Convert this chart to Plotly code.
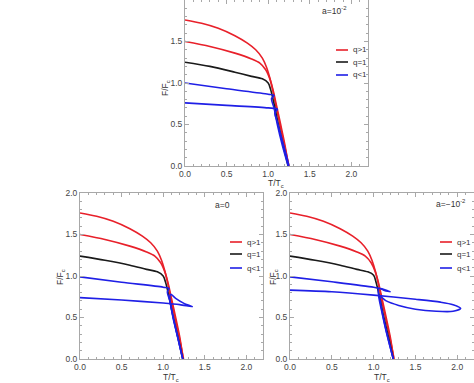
import plotly.graph_objects as go

# ---------------- data ----------------
# panel a = 10^-2 (top)
T_top_red1 = [0, 0.2, 0.4, 0.6, 0.75, 0.85, 0.93, 0.98, 1.02, 1.06, 1.10, 1.15, 1.20, 1.25]
F_top_red1 = [1.76, 1.72, 1.66, 1.57, 1.48, 1.40, 1.30, 1.19, 1.06, 0.89, 0.69, 0.46, 0.23, 0.0]
T_top_red2 = [0, 0.3, 0.6, 0.8, 0.9, 0.97, 1.02, 1.06, 1.10, 1.15, 1.20, 1.245]
F_top_red2 = [1.50, 1.44, 1.36, 1.29, 1.24, 1.16, 1.05, 0.91, 0.73, 0.50, 0.26, 0.0]
T_top_blk = [0, 0.3, 0.6, 0.8, 0.93, 1.0, 1.03, 1.07, 1.12, 1.18, 1.24]
F_top_blk = [1.25, 1.20, 1.13, 1.08, 1.05, 1.00, 0.92, 0.75, 0.51, 0.25, 0.0]
T_top_blu1 = [0, 0.5, 1.0, 1.07, 1.04, 1.07, 1.11, 1.17, 1.24]
F_top_blu1 = [1.0, 0.93, 0.865, 0.85, 0.81, 0.70, 0.50, 0.25, 0.0]
T_top_blu2 = [0, 0.5, 1.0, 1.11, 1.08, 1.11, 1.16, 1.21, 1.25]
F_top_blu2 = [0.76, 0.73, 0.70, 0.685, 0.64, 0.53, 0.34, 0.16, 0.0]

# panel a = 0 (bottom left)
T_a0_red1 = [0, 0.2, 0.4, 0.6, 0.75, 0.85, 0.93, 0.98, 1.02, 1.06, 1.10, 1.15, 1.20, 1.245]
F_a0_red1 = [1.76, 1.72, 1.66, 1.57, 1.48, 1.40, 1.30, 1.19, 1.06, 0.89, 0.69, 0.46, 0.23, 0.0]
T_a0_red2 = [0, 0.3, 0.6, 0.8, 0.9, 0.97, 1.02, 1.06, 1.10, 1.15, 1.20, 1.24]
F_a0_red2 = [1.50, 1.44, 1.36, 1.29, 1.24, 1.16, 1.05, 0.91, 0.73, 0.50, 0.26, 0.0]
T_a0_blk = [0, 0.3, 0.6, 0.8, 0.93, 1.0, 1.03, 1.07, 1.12, 1.18, 1.235]
F_a0_blk = [1.24, 1.19, 1.13, 1.08, 1.05, 1.00, 0.92, 0.75, 0.51, 0.25, 0.0]
T_a0_blu1 = [0, 0.5, 1.0, 1.07, 1.05, 1.08, 1.12, 1.18, 1.235]
F_a0_blu1 = [0.99, 0.925, 0.865, 0.85, 0.81, 0.70, 0.49, 0.24, 0.0]
T_a0_blu2 = [0, 0.5, 1.0, 1.2, 1.35, 1.25, 1.15, 1.09, 1.08, 1.11, 1.17, 1.235]
F_a0_blu2 = [0.74, 0.71, 0.675, 0.655, 0.63, 0.67, 0.73, 0.78, 0.72, 0.55, 0.28, 0.0]

# panel a = -10^-2 (bottom right)
T_am_red1 = [0, 0.2, 0.4, 0.6, 0.75, 0.85, 0.93, 0.98, 1.02, 1.06, 1.10, 1.15, 1.20, 1.245]
F_am_red1 = [1.76, 1.72, 1.66, 1.57, 1.48, 1.40, 1.30, 1.19, 1.06, 0.89, 0.69, 0.46, 0.23, 0.0]
T_am_red2 = [0, 0.3, 0.6, 0.8, 0.9, 0.97, 1.02, 1.06, 1.10, 1.15, 1.20, 1.24]
F_am_red2 = [1.50, 1.44, 1.36, 1.29, 1.24, 1.16, 1.05, 0.91, 0.73, 0.50, 0.26, 0.0]
T_am_blk = [0, 0.3, 0.6, 0.8, 0.93, 1.0, 1.03, 1.07, 1.12, 1.18, 1.235]
F_am_blk = [1.24, 1.19, 1.13, 1.08, 1.05, 1.01, 0.92, 0.75, 0.51, 0.25, 0.0]
T_am_blu1 = [0, 0.5, 1.0, 1.1, 1.2, 1.12, 1.06, 1.06, 1.10, 1.16, 1.235]
F_am_blu1 = [0.99, 0.93, 0.865, 0.845, 0.81, 0.83, 0.85, 0.76, 0.56, 0.29, 0.0]
T_am_blu2 = [0, 0.5, 1.0, 1.5, 1.8, 1.95, 2.04, 1.95, 1.75, 1.5, 1.3, 1.15, 1.08, 1.10, 1.16, 1.235]
F_am_blu2 = [0.83, 0.81, 0.77, 0.72, 0.685, 0.655, 0.61, 0.575, 0.575, 0.60, 0.645, 0.70, 0.75, 0.58, 0.30, 0.0]

legend_labels = ["q&gt;1", "q=1", "q&lt;1"]
panel_labels = ["a=10<sup>-2</sup>", "a=0", "a=\u221210<sup>-2</sup>"]

RED = "#e8202a"
BLACK = "#1a1a1a"
BLUE = "#1f1fe6"

panels = [
    ("x", "y", [(T_top_red1, F_top_red1, RED), (T_top_red2, F_top_red2, RED),
                (T_top_blk, F_top_blk, BLACK), (T_top_blu1, F_top_blu1, BLUE),
                (T_top_blu2, F_top_blu2, BLUE)]),
    ("x2", "y2", [(T_a0_red1, F_a0_red1, RED), (T_a0_red2, F_a0_red2, RED),
                  (T_a0_blk, F_a0_blk, BLACK), (T_a0_blu1, F_a0_blu1, BLUE),
                  (T_a0_blu2, F_a0_blu2, BLUE)]),
    ("x3", "y3", [(T_am_red1, F_am_red1, RED), (T_am_red2, F_am_red2, RED),
                  (T_am_blk, F_am_blk, BLACK), (T_am_blu1, F_am_blu1, BLUE),
                  (T_am_blu2, F_am_blu2, BLUE)]),
]

W, H = 474, 383
# domains in paper coords
domains = [
    ([185 / W, 368 / W], [1 - 166 / H, 1.0]),
    ([80 / W, 263 / W], [1 - 359 / H, 1 - 193 / H]),
    ([290 / W, 474 / W], [1 - 359 / H, 1 - 193 / H]),
]

fig = go.Figure()
for xa, ya, curves in panels:
    for T, F, c in curves:
        fig.add_trace(go.Scatter(x=T, y=F, xaxis=xa, yaxis=ya, mode="lines",
                                 line=dict(color=c, width=1.6, shape="spline", smoothing=0.8),
                                 showlegend=False, hoverinfo="skip"))

FRAME = "#a8a8a8"
TICKFONT = dict(family="Liberation Sans, Arial, sans-serif", size=8.5, color="#444")
layout = dict(width=W, height=H, margin=dict(l=0, r=0, t=0, b=0, autoexpand=False),
              paper_bgcolor="white", plot_bgcolor="white", showlegend=False)

for i, (dx, dy) in enumerate(domains):
    sx = "" if i == 0 else str(i + 1)
    common = dict(showline=True, linecolor=FRAME, linewidth=1, mirror="allticks",
                  ticks="inside", ticklen=4, tickcolor=FRAME, tickwidth=1,
                  showgrid=False, zeroline=False, tickfont=TICKFONT, automargin=False,
                  minor=dict(ticks="inside", ticklen=2, tickcolor=FRAME, dtick=0.1, showgrid=False))
    layout["xaxis" + sx] = dict(domain=dx, range=[0, 2.2], dtick=0.5, tick0=0,
                                tickformat=".1f", anchor="y" + sx, **common)
    layout["yaxis" + sx] = dict(domain=dy, range=[0, 2.0], dtick=0.5, tick0=0,
                                tickformat=".1f", anchor="x" + sx, **common)
fig.update_layout(**layout)

# axis titles, panel labels and legends
TXT = dict(family="Liberation Sans, Arial, sans-serif", size=8.5, color="#333")
LEGTXT = dict(family="Liberation Sans, Arial, sans-serif", size=8, color="#333")
xtitle_pos = [(276, 184), (171, 377), (382, 377)]
ytitle_pos = [(165, 88), (60, 277), (273, 277)]
label_pos = [(334, 10), (222, 205), (450, 203)]
legend_x = [(336, 348, 351), (230, 242, 245), (440, 452, 455)]
legend_y = [[50, 62, 75], [242, 254, 268], [242, 254, 268]]
leg_colors = [RED, BLACK, BLUE]

def note(x, y, text, **kw):
    args = dict(x=x / W, y=1 - y / H, xref="paper", yref="paper", showarrow=False,
                text=text, font=TXT, xanchor="center", yanchor="middle")
    args.update(kw)
    fig.add_annotation(**args)

for i in range(3):
    note(*xtitle_pos[i], "T/T<sub>c</sub>")
    note(*ytitle_pos[i], "F/F<sub>c</sub>", textangle=-90)
    note(*label_pos[i], panel_labels[i])
    x0, x1, xt = legend_x[i]
    for j in range(3):
        yy = legend_y[i][j]
        fig.add_shape(type="line", xref="paper", yref="paper", x0=x0 / W, x1=x1 / W,
                      y0=1 - yy / H, y1=1 - yy / H, line=dict(color=leg_colors[j], width=1.6))
        note(xt, yy, legend_labels[j], xanchor="left", font=LEGTXT)

fig.write_html("out.html")
